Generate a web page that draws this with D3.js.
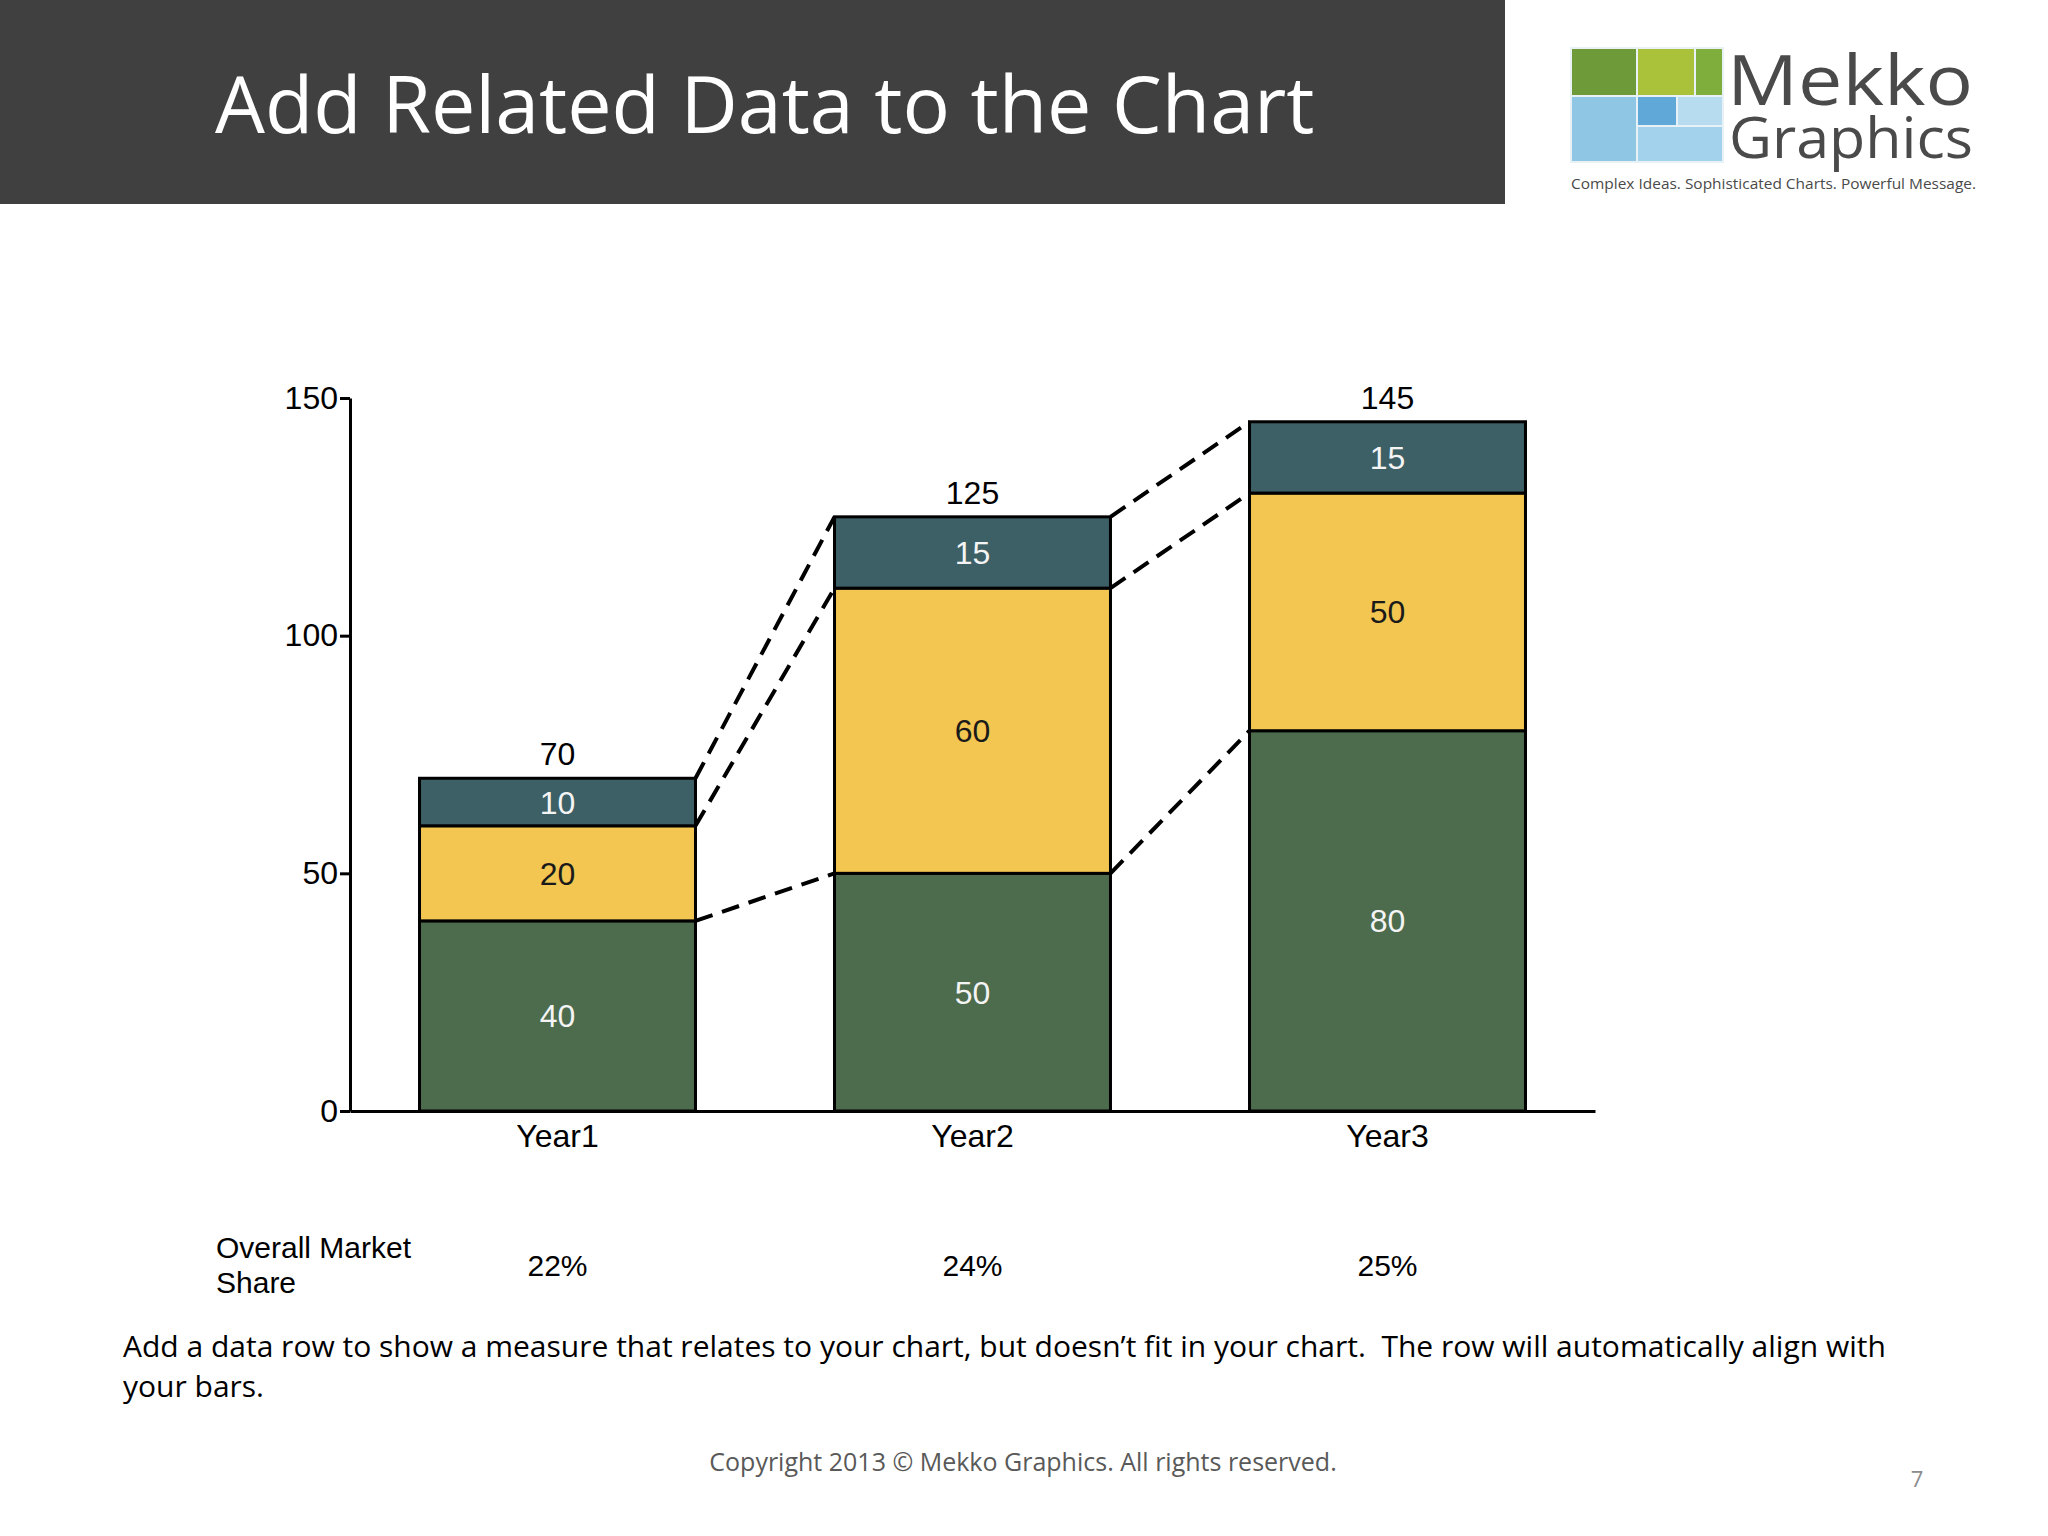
<!DOCTYPE html>
<html>
<head>
<meta charset="utf-8">
<script src="https://cdn.jsdelivr.net/npm/d3@7"></script>
<style>
  body { margin: 0; background: #fff; }
  text { white-space: pre; }
</style>
</head>
<body>
<svg id="chart" width="2048" height="1536"></svg>
<script>
// data
var years = ["Year1", "Year2", "Year3"];
var seriesKeys = ["bottom", "middle", "top"];
var bottomValues = [40, 50, 80];
var middleValues = [20, 60, 50];
var topValues = [10, 15, 15];
var marketShare = ["22%", "24%", "25%"];
var yTicks = [0, 50, 100, 150];

var colors = { bottom: "#4d6b4d", middle: "#f2c650", top: "#3d5f66" };
var labelColors = { bottom: "#f4f4f4", middle: "#1a1a1a", top: "#f4f4f4" };

var rows = years.map(function (yr, i) {
    return { year: yr, bottom: bottomValues[i], middle: middleValues[i], top: topValues[i] };
});

var svg = d3.select("#chart");
var chartFont = "'Liberation Sans', Arial, sans-serif";
var slideFont = "'Open Sans', 'Noto Sans', sans-serif";

// header bar
svg.append("rect").attr("x", 0).attr("y", 0).attr("width", 1505).attr("height", 204).attr("fill", "#404040");
svg.append("text").attr("x", 215).attr("y", 133)
    .attr("font-family", slideFont).attr("font-size", 79).attr("fill", "#fff")
    .text("Add Related Data to the Chart");

// logo
var logo = svg.append("g").attr("transform", "translate(1571,48)");
var logoBlocks = [
    [0, 0, 66, 48, "#6f9a3a"], [66, 0, 58, 48, "#a9c23a"], [124, 0, 28, 48, "#7fae3c"],
    [0, 48, 66, 66, "#8ec6e4"], [66, 48, 40, 30, "#5fa8d8"], [106, 48, 46, 30, "#b7dcef"],
    [66, 78, 86, 36, "#a3d2ec"]
];
logo.selectAll("rect").data(logoBlocks).enter().append("rect")
    .attr("x", function (d) { return d[0]; }).attr("y", function (d) { return d[1]; })
    .attr("width", function (d) { return d[2]; }).attr("height", function (d) { return d[3]; })
    .attr("fill", function (d) { return d[4]; }).attr("stroke", "#e8f2f6").attr("stroke-width", 2);
var brand = logo.append("text").attr("font-family", slideFont).attr("fill", "#4a4a4a");
brand.append("tspan").attr("x", 156).attr("y", 57).attr("font-size", 70)
    .attr("textLength", 246).attr("lengthAdjust", "spacingAndGlyphs").text("Mekko");
brand.append("tspan").attr("x", 158).attr("y", 110).attr("font-size", 56)
    .attr("textLength", 244).attr("lengthAdjust", "spacingAndGlyphs").text("Graphics");
logo.append("text").attr("x", 0).attr("y", 141)
    .attr("font-family", slideFont).attr("font-size", 15).attr("fill", "#4a4a4a")
    .attr("textLength", 405).attr("lengthAdjust", "spacingAndGlyphs")
    .text("Complex Ideas. Sophisticated Charts. Powerful Message.");

// scales
var x = d3.scaleBand().domain(years).range([350, 1595]).paddingInner(0.335).paddingOuter(0.1675);
var y = d3.scaleLinear().domain([0, 150]).range([1111, 398]);

var stacked = d3.stack().keys(seriesKeys)(rows);

// dashed connectors between bars
var conn = svg.append("g");
stacked.forEach(function (layer) {
    for (var i = 0; i < years.length - 1; i++) {
        conn.append("line")
            .attr("x1", x(years[i]) + x.bandwidth())
            .attr("y1", y(layer[i][1]))
            .attr("x2", x(years[i + 1]))
            .attr("y2", y(layer[i + 1][1]))
            .attr("stroke", "#000").attr("stroke-width", 4)
            .attr("stroke-dasharray", "18,10");
    }
});

// bars
var layers = svg.append("g").selectAll("g").data(stacked).enter().append("g")
    .attr("fill", function (d) { return colors[d.key]; });
layers.selectAll("rect").data(function (d) { return d; }).enter().append("rect")
    .attr("x", function (d) { return x(d.data.year); })
    .attr("y", function (d) { return y(d[1]); })
    .attr("width", x.bandwidth())
    .attr("height", function (d) { return y(d[0]) - y(d[1]); })
    .attr("stroke", "#000").attr("stroke-width", 3);

// segment labels
layers.selectAll("text").data(function (d) { return d.map(function (p) { return { p: p, key: d.key }; }); })
    .enter().append("text")
    .attr("x", function (d) { return x(d.p.data.year) + x.bandwidth() / 2; })
    .attr("y", function (d) { return (y(d.p[0]) + y(d.p[1])) / 2; })
    .attr("dy", "0.36em")
    .attr("text-anchor", "middle")
    .attr("font-family", chartFont).attr("font-size", 32)
    .attr("fill", function (d) { return labelColors[d.key]; })
    .text(function (d) { return d.p[1] - d.p[0]; });

// totals
var topLayer = stacked[stacked.length - 1];
svg.append("g").selectAll("text").data(topLayer).enter().append("text")
    .attr("x", function (d) { return x(d.data.year) + x.bandwidth() / 2; })
    .attr("y", function (d) { return y(d[1]) - 13; })
    .attr("text-anchor", "middle")
    .attr("font-family", chartFont).attr("font-size", 32).attr("fill", "#000")
    .text(function (d) { return d[1]; });

// axes
var yAxis = svg.append("g").attr("transform", "translate(350,0)")
    .call(d3.axisLeft(y).tickValues(yTicks).tickSize(10).tickSizeOuter(0).tickPadding(2));
var xAxis = svg.append("g").attr("transform", "translate(0,1111)")
    .call(d3.axisBottom(x).tickSize(0).tickPadding(13));
[yAxis, xAxis].forEach(function (ax) {
    ax.selectAll("path, line").attr("stroke", "#000").attr("stroke-width", 3);
    ax.selectAll("text").attr("font-family", chartFont).attr("font-size", 32).attr("fill", "#000");
});

// data row
var rowLabel = svg.append("text").attr("font-family", chartFont).attr("font-size", 30).attr("fill", "#000");
rowLabel.append("tspan").attr("x", 216).attr("y", 1258).text("Overall Market");
rowLabel.append("tspan").attr("x", 216).attr("y", 1293).text("Share");
svg.append("g").selectAll("text").data(marketShare).enter().append("text")
    .attr("x", function (d, i) { return x(years[i]) + x.bandwidth() / 2; })
    .attr("y", 1276)
    .attr("text-anchor", "middle")
    .attr("font-family", chartFont).attr("font-size", 30).attr("fill", "#000")
    .text(function (d) { return d; });

// notes
var note = svg.append("text").attr("font-family", slideFont).attr("font-size", 30).attr("fill", "#000");
note.append("tspan").attr("x", 123).attr("y", 1357)
    .text("Add a data row to show a measure that relates to your chart, but doesn\u2019t fit in your chart.  The row will automatically align with");
note.append("tspan").attr("x", 123).attr("y", 1397).text("your bars.");

svg.append("text").attr("x", 1023).attr("y", 1471).attr("text-anchor", "middle")
    .attr("font-family", slideFont).attr("font-size", 25).attr("fill", "#595959")
    .text("Copyright 2013 \u00a9 Mekko Graphics. All rights reserved.");
svg.append("text").attr("x", 1917).attr("y", 1487).attr("text-anchor", "middle")
    .attr("font-family", slideFont).attr("font-size", 22).attr("fill", "#8c8c8c")
    .text("7");
</script>
</body>
</html>
